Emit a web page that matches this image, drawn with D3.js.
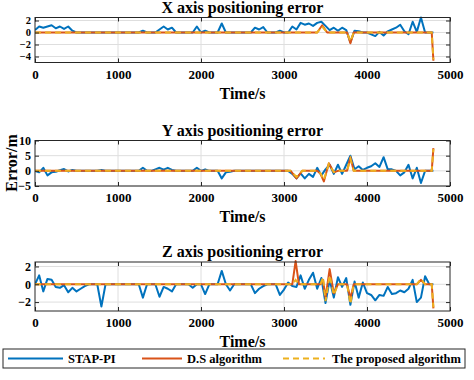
<!DOCTYPE html>
<html>
<head>
<meta charset="utf-8">
<script src="https://cdn.jsdelivr.net/npm/d3@7"></script>
<style>
  body { margin: 0; background: #fff; }
  svg text { font-family: "Liberation Serif", "Times New Roman", serif; font-weight: bold; fill: #000; }
</style>
</head>
<body>
<svg id="chart"></svg>
<script>
// sample times of the STAP-PI series (every 50 s)
const sampleTimes = d3.range(0, 4801, 50);

const xStap = [0.4,1.0,0.8,1.0,1.2,0.7,1.0,0.6,1.0,0.3,0,
  0,0,0,0,0,0,0,0,0,0,0,0,0,0,0,
  0.3,0,0,0,0.5,1.0,0.5,0.8,0,0,0,0,0,1.0,0,0.3,0,0,0,1.5,0,
  0,0,0,0,0,0,0.8,0.5,0.9,0,0,0,0.3,0,0,
  1.0,0.5,1.6,1.3,1.5,1.1,1.6,1.8,1.1,0.4,0.8,0.3,0.8,0.4,-1.6,0.3,0.2,0,
  0,-0.3,-0.6,0.1,-0.5,0.2,0.5,0.8,1.3,0.2,-0.3,1.8,0.1,2.5,0,0,0];
const xDsTimes = [0,3400,3460,3520,3760,3800,3840,4780,4800];
const xDs = [0,0,1.2,0,0,-1.8,0,0,-4.7];
const xPropTimes = [0,3400,3460,3520,3760,3800,3840,4780,4800];
const xProp = [0,0,1.0,0,0,-1.5,0,0,-4.5];

const yStap = [0,-0.5,1.0,-1.5,-0.5,-0.3,0.2,0.6,-0.2,0.3,0,
  0,0,0,0,0,0.3,0,0,0,0,0,0,0,0,0,
  1.0,0,0,0.5,1.0,0.4,1.0,0.3,0,0,0,0,0,1.0,0,0.5,0,0,0,-2.5,-0.5,-0.3,
  0,0,0,0,0,0,0,0,0,0,0,0,0,0,
  -1.0,-2.5,-0.8,-2.5,-1.0,-2.0,1.0,-1.5,0.5,2.0,-1.0,2.0,-1.0,2.0,5.0,0.5,1.5,0.3,
  1.0,1.5,2.5,1.3,4.5,0.5,0.5,0,-1.5,-0.5,2.0,-2.5,1.0,-4.0,0,0,0];
const yDsTimes = [0,3080,3150,3220,3400,3440,3480,3540,3600,3650,3760,3800,3840,4780,4800];
const yDs = [0,0,-2.5,0,0,-1.0,-3.5,2.5,-0.5,0,0,4.5,0,0,7.5];
const yPropTimes = [0,3080,3150,3220,3400,3440,3480,3540,3600,3650,3760,3800,3840,4780,4800];
const yProp = [0,0,-2.0,0,0,-0.8,-3.0,2.2,-0.4,0,0,4.0,0,0,7.2];

const zStap = [0,1.0,-0.8,0.6,0.5,-0.3,-0.4,-0.1,-0.9,-0.4,-0.8,-0.5,-0.2,0,0,0,-2.5,0,
  0,0,0,0,0,0,0,0,
  -1.5,0,0,0,-1.4,-0.3,-0.5,-0.8,0,0,0,0,-0.4,0,0,-1.1,0,0,0,1.5,0,-0.7,0,
  0,0,0,0,-1.0,-0.5,-0.2,0,0,0,-1.2,-0.6,0.2,
  -0.2,-0.3,1.0,-0.5,0.5,1.3,-0.5,0.7,-2.1,0.5,-1.5,0.8,-0.3,0.7,-2.3,0.3,-1.5,0.2,
  -1.0,-1.2,-1.8,-1.2,-1.3,-0.3,-1.1,-1.0,-0.7,-0.9,-0.5,0.5,-2.0,-1.5,0.9,0,0];
const zDsTimes = [0,3100,3140,3180,3440,3470,3500,3550,3600,3650,3760,3800,3840,4600,4650,4700,4780,4800];
const zDs = [0,0,2.6,0,0,0.5,-1.5,1.7,-1.0,0,0,-1.6,0,0,0.5,0,0,-2.7];
const zPropTimes = [0,3100,3140,3180,3440,3470,3500,3550,3600,3650,3760,3800,3840,4600,4650,4700,4780,4800];
const zProp = [0,0,0.5,0,0,0.8,-1.9,1.0,-1.2,0,0,-2.2,0,0,0.6,0,0,-2.6];

const xTicks = [0, 1000, 2000, 3000, 4000, 5000];
const seriesNames = ['STAP-PI', 'D.S algorithm', 'The proposed algorithm'];
const colors = ['#0072BD', '#D95319', '#EDB120'];

const panels = [
  { title: 'X axis positioning error', top: 17.5, bottom: 62.5, domain: [-5, 2.5], ticks: [-4, -2, 0, 2], tickFont: 10.5,
    stap: xStap, ds: [xDsTimes, xDs], prop: [xPropTimes, xProp] },
  { title: 'Y axis positioning error', top: 140.5, bottom: 186, domain: [-5, 10], ticks: [-5, 0, 5, 10], tickFont: 12,
    stap: yStap, ds: [yDsTimes, yDs], prop: [yPropTimes, yProp] },
  { title: 'Z axis positioning error', top: 262, bottom: 311, domain: [-3, 2.5], ticks: [-2, 0, 2], tickFont: 12,
    stap: zStap, ds: [zDsTimes, zDs], prop: [zPropTimes, zProp] }
];

const width = 474, height = 380;
const left = 35, right = 450;

const svg = d3.select('#chart').attr('width', width).attr('height', height);
svg.append('rect').attr('width', width).attr('height', height).attr('fill', '#fff');

const x = d3.scaleLinear().domain([0, 5000]).range([left, right]);

panels.forEach((p, idx) => {
  const y = d3.scaleLinear().domain(p.domain).range([p.bottom, p.top]);
  const g = svg.append('g');

  // grid
  g.selectAll('.vgrid').data(xTicks.slice(1, -1)).enter().append('line')
    .attr('x1', d => x(d)).attr('x2', d => x(d))
    .attr('y1', p.top).attr('y2', p.bottom)
    .attr('stroke', '#dedede').attr('stroke-width', 1);
  g.selectAll('.hgrid').data(p.ticks).enter().append('line')
    .attr('x1', left).attr('x2', right)
    .attr('y1', d => y(d)).attr('y2', d => y(d))
    .attr('stroke', '#dedede').attr('stroke-width', 1);

  // lines
  const line = d3.line().x(d => x(d[0])).y(d => y(d[1]));
  const clipId = 'clip' + idx;
  svg.append('clipPath').attr('id', clipId).append('rect')
    .attr('x', left).attr('y', p.top - 3).attr('width', right - left).attr('height', p.bottom - p.top + 6);
  const lg = g.append('g').attr('clip-path', `url(#${clipId})`);
  lg.append('path').datum(sampleTimes.map((t, i) => [t, p.stap[i]]))
    .attr('d', line).attr('fill', 'none').attr('stroke', colors[0]).attr('stroke-width', 2)
    .attr('stroke-linejoin', 'round');
  lg.append('path').datum(p.ds[0].map((t, i) => [t, p.ds[1][i]]))
    .attr('d', line).attr('fill', 'none').attr('stroke', colors[1]).attr('stroke-width', 2)
    .attr('stroke-linejoin', 'round');
  lg.append('path').datum(p.prop[0].map((t, i) => [t, p.prop[1][i]]))
    .attr('d', line).attr('fill', 'none').attr('stroke', colors[2]).attr('stroke-width', 2)
    .attr('stroke-dasharray', '6,4');

  // axes
  const xAxis = d3.axisBottom(x).tickValues(xTicks).tickSize(-4).tickPadding(7).tickFormat(d3.format('d'));
  const yAxis = d3.axisLeft(y).tickValues(p.ticks).tickSize(-4).tickPadding(4).tickFormat(d3.format('d'));
  const ax = g.append('g').attr('transform', `translate(0,${p.bottom})`).call(xAxis);
  const ay = g.append('g').attr('transform', `translate(${left},0)`).call(yAxis);
  const ay2 = g.append('g').attr('transform', `translate(${right},0)`)
    .call(d3.axisRight(y).tickValues(p.ticks).tickSize(-4).tickFormat(''));
  const ax2 = g.append('g').attr('transform', `translate(0,${p.top})`)
    .call(d3.axisTop(x).tickValues(xTicks).tickSize(-4).tickFormat(''));
  [ax, ay, ay2, ax2].forEach(a => {
    a.select('.domain').remove();
    a.selectAll('line').attr('stroke', '#262626');
    a.selectAll('text').style('font-family', '"Liberation Serif", serif').style('font-weight', 'bold').attr('fill', '#000');
  });
  ax.selectAll('text').style('font-size', '13px');
  ay.selectAll('text').style('font-size', p.tickFont + 'px');
  g.append('rect').attr('x', left).attr('y', p.top).attr('width', right - left).attr('height', p.bottom - p.top)
    .attr('fill', 'none').attr('stroke', '#262626').attr('stroke-width', 1);

  g.append('text').attr('x', (left + right) / 2).attr('y', p.top - 5)
    .attr('text-anchor', 'middle').style('font-size', '16px').text(p.title);
  g.append('text').attr('x', (left + right) / 2).attr('y', p.bottom + 36)
    .attr('text-anchor', 'middle').style('font-size', '16px').text('Time/s');
});

svg.append('text').attr('transform', 'translate(17,163) rotate(-90)')
  .attr('text-anchor', 'middle').style('font-size', '16px').text('Error/m');

// legend
const legend = svg.append('g');
legend.append('rect').attr('x', 3).attr('y', 349).attr('width', 462).attr('height', 19)
  .attr('fill', '#fff').attr('stroke', '#262626').attr('stroke-width', 1);
const legendItems = [
  { x1: 8, x2: 63, tx: 68 },
  { x1: 142, x2: 182, tx: 187 },
  { x1: 283, x2: 325, tx: 332 }
];
legendItems.forEach((it, i) => {
  legend.append('line').attr('x1', it.x1).attr('x2', it.x2).attr('y1', 358.5).attr('y2', 358.5)
    .attr('stroke', colors[i]).attr('stroke-width', 2)
    .attr('stroke-dasharray', i === 2 ? '6,4' : null);
  legend.append('text').attr('x', it.tx).attr('y', 363).style('font-size', '12.5px').text(seriesNames[i]);
});
</script>
</body>
</html>
